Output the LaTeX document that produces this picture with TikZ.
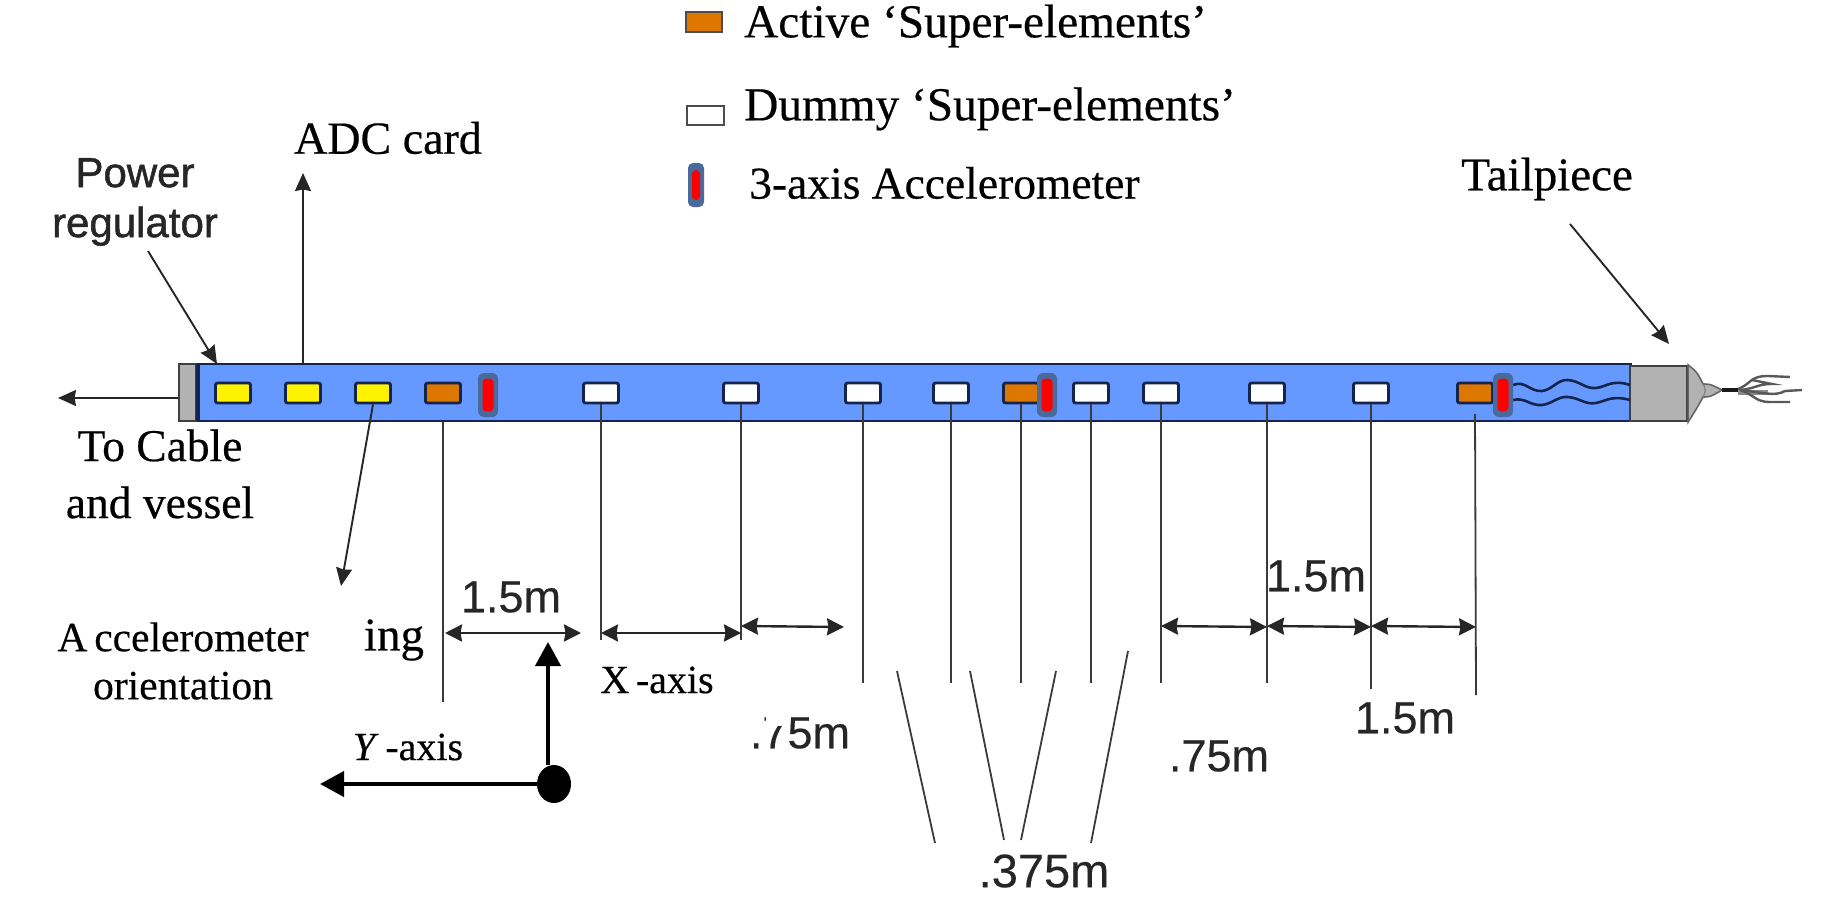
\documentclass[tikz,border=0pt]{standalone}
\usepackage{fontspec}
\setmainfont[FakeBold=0.4]{Liberation Serif}
\newfontfamily\sansf[FakeBold=0.4]{Liberation Sans}
\newfontfamily\sansfb[FakeBold=1.2]{Liberation Sans}
\usetikzlibrary{arrows.meta,shapes.geometric}
\definecolor{tubeblue}{HTML}{6699FF}
\definecolor{edgeblue}{HTML}{14244F}
\definecolor{grayblock}{HTML}{B2B2B2}
\definecolor{activeorange}{HTML}{DD7700}
\definecolor{accelrim}{HTML}{4A6A9E}
\definecolor{dimgray}{HTML}{3A3A3A}
\tikzset{
  elem/.style={draw=edgeblue,line width=2.8pt,rounded corners=2pt,minimum width=35pt,minimum height=20pt,inner sep=0pt},
  yellowel/.style={elem,fill=yellow},
  activeel/.style={elem,fill=activeorange},
  dummyel/.style={elem,fill=white},
  accelrimbox/.style={fill=accelrim,rounded corners=6pt,minimum width=20pt,minimum height=44pt,inner sep=0pt},
  accelcore/.style={fill=red,rounded corners=4pt,minimum width=11pt,minimum height=33pt,inner sep=0pt},
  ext/.style={draw=dimgray,line width=1.8pt},
  pointer/.style={draw=black!85,line width=1.9pt,-{Stealth[length=18pt,width=16pt,inset=1.5pt]}},
  dimarrow/.style={draw=black!85,line width=2.4pt,{Stealth[length=17pt,width=17pt,inset=1.5pt]}-{Stealth[length=17pt,width=17pt,inset=1.5pt]}},
  axisarrow/.style={draw=black,line width=4pt,-{Triangle[length=24pt,width=25pt]}},
  serif/.style={font=\fontsize{46}{56}\selectfont,inner sep=0pt,align=center},
  legendt/.style={font=\fontsize{47.3}{52}\selectfont,inner sep=0pt,anchor=west},
  sanslbl/.style={font=\sansf\fontsize{45}{50}\selectfont,inner sep=0pt,text=black!85},
  sanssmall/.style={font=\sansfb\fontsize{42}{50}\selectfont,inner sep=0pt,align=center,text=black!85},
  wire/.style={draw=black!65,line width=2.4pt},
  squig/.style={draw=edgeblue,line width=2.6pt},
}
\begin{document}
\begin{tikzpicture}[x=1pt,y=-1pt]
\useasboundingbox (0,0) rectangle (1830,912);
% body of the instrument
\node[draw=edgeblue,line width=2.4pt,fill=tubeblue,minimum width=1433pt,minimum height=57pt,inner sep=0pt] (tube) at (914.5,392.5) {};
\node[draw=black!75,line width=2pt,fill=grayblock,minimum width=17pt,minimum height=57pt,inner sep=0pt] (lcap) at (187.5,392.5) {};
\draw[edgeblue,line width=3.5pt] (198,364) -- (198,421);
\node[draw=black!75,line width=2.2pt,fill=grayblock,minimum width=57pt,minimum height=55pt,inner sep=0pt] (rcap) at (1658.5,393.5) {};
% tail cone and wires
\coordinate (wroot) at (1722,390);
\coordinate (w1) at (1790,377);
\coordinate (w2) at (1802,390);
\coordinate (w3) at (1790,402);
\fill[grayblock,draw=black!60,line width=1.6pt] (rcap.north east) .. controls (1697,372) .. (1703,384) .. controls (1710,384) .. (wroot) .. controls (1710,397) .. (1703,397) .. controls (1697,408) .. (rcap.south east) -- cycle;
\draw[black!50,line width=1.2pt] (1703,384) .. controls (1706,390) .. (1703,397);
\draw[wire] (1735,390) .. controls (1752,385) and (1748,376) .. (1768,376) -- (w1);
\draw[wire] (1735,390) .. controls (1755,390) and (1755,384) .. (1772,384) -- (1752,380);
\draw[wire,line width=5pt,draw=black!45] (1738,392) -- (1768,392);
\draw[wire] (1740,390) .. controls (1760,392) and (1775,397) .. (1785,391) -- (w2);
\draw[wire] (1740,390) .. controls (1755,395) and (1755,402) .. (1770,402) -- (w3);
\draw[black!90,line width=4.5pt] (wroot) -- (1738,390);
% elements
\node[yellowel] (y1) at (233,393) {};
\node[yellowel] (y2) at (303,393) {};
\node[yellowel] (y3) at (373,393) {};
\node[activeel] (a1) at (443,393) {};
\node[dummyel] (d1) at (601,393) {};
\node[dummyel] (d2) at (741,393) {};
\node[dummyel] (d3) at (863,393) {};
\node[dummyel] (d4) at (951,393) {};
\node[activeel] (a2) at (1021,393) {};
\node[dummyel] (d5) at (1091,393) {};
\node[dummyel] (d6) at (1161,393) {};
\node[dummyel] (d7) at (1267,393) {};
\node[dummyel] (d8) at (1371,393) {};
\node[activeel] (a3) at (1475,393) {};
% accelerometers
\node[accelrimbox] (acr1) at (488,395) {};
\node[accelcore] (acc1) at (488,395) {};
\node[accelrimbox] (acr2) at (1047,395) {};
\node[accelcore] (acc2) at (1047,395) {};
\node[accelrimbox] (acr3) at (1503,395) {};
\node[accelcore] (acc3) at (1503,395) {};
% internal wires
\draw[squig] (acr3.east |- 0,385) .. controls (1525,380) and (1530,392) .. (1542,391) .. controls (1552,390) and (1558,379) .. (1568,380) .. controls (1580,381) and (1585,389) .. (1596,388) .. controls (1606,387) and (1612,379) .. (1630,385);
\draw[squig] (acr3.east |- 0,400) .. controls (1525,397) and (1530,406) .. (1542,405) .. controls (1552,404) and (1558,396) .. (1568,397) .. controls (1580,398) and (1585,405) .. (1596,403) .. controls (1606,401) and (1612,395) .. (1630,400);
% extension lines
\coordinate (e1) at (443,702);
\coordinate (e2) at (601,640);
\coordinate (e3) at (741,640);
\coordinate (e4) at (863,683);
\coordinate (e5) at (951,683);
\coordinate (e6) at (1021,683);
\coordinate (e7) at (1091,683);
\coordinate (e8) at (1161,683);
\coordinate (e9) at (1267,683);
\coordinate (e10) at (1371,689);
\coordinate (e11) at (1476,695);
\draw[ext] (a1 |- tube.south) -- (e1);
\draw[ext] (d1.south) -- (e2);
\draw[ext] (d2.south) -- (e3);
\draw[ext] (d3.south) -- (e4);
\draw[ext] (d4.south) -- (e5);
\draw[ext] (a2.south) -- (e6);
\draw[ext] (d5.south) -- (e7);
\draw[ext] (d6.south) -- (e8);
\draw[ext] (d7.south) -- (e9);
\draw[ext] (d8.south) -- (e10);
\draw[ext] (a3 |- 0,414) -- (e11);
% slanted leaders
\coordinate (s1a) at (897,671); \coordinate (s1b) at (935,843);
\coordinate (s2a) at (970,671); \coordinate (s2b) at (1004,840);
\coordinate (s3a) at (1056,671); \coordinate (s3b) at (1021,840);
\coordinate (s4a) at (1128,651); \coordinate (s4b) at (1091,843);
\draw[ext] (s1a) -- (s1b);
\draw[ext] (s2a) -- (s2b);
\draw[ext] (s3a) -- (s3b);
\draw[ext] (s4a) -- (s4b);
% dimension arrows
\coordinate (da1) at (445,633); \coordinate (da2) at (581,633);
\coordinate (db1) at (601,633); \coordinate (db2) at (741,633);
\coordinate (dc1) at (741,626); \coordinate (dc2) at (844,627);
\coordinate (dd1) at (1161,626); \coordinate (dd2) at (1267,627);
\coordinate (de1) at (1267,626); \coordinate (de2) at (1371,627);
\coordinate (df1) at (1371,626); \coordinate (df2) at (1476,627);
\draw[dimarrow] (da1) -- (da2);
\draw[dimarrow] (db1) -- (db2);
\draw[dimarrow] (dc1) -- (dc2);
\draw[dimarrow] (dd1) -- (dd2);
\draw[dimarrow] (de1) -- (de2);
\draw[dimarrow] (df1) -- (df2);
% labels
\node[sanssmall] (power) at (135,202) {Power\\regulator};
\node[serif] (adc) at (388,138) {ADC card};
\node[serif,font=\fontsize{47}{56}\selectfont] (tail) at (1547,179) {Tailpiece};
\node[serif,font=\fontsize{45.5}{57}\selectfont] (cable) at (160,474) {To Cable\\and vessel};
\node[serif,font=\fontsize{41.5}{48}\selectfont] (orient) at (183,661) {A\,ccelerometer\\orientation};
\node[serif,font=\fontsize{47}{56}\selectfont] (ing) at (394,640) {ing};
\node[serif,font=\fontsize{40}{46}\selectfont] (xax) at (657,680) {X\,-axis};
\node[serif,font=\fontsize{40}{46}\selectfont] (yax) at (408,747) {\textit{Y}\,-axis};
\node[sanslbl] (l1) at (511,597) {1.5m};
\node[sanslbl] (l2) at (800,733) {.75m};
\fill[white] (766,708) rectangle (790,726);
\node[sanslbl] (l3) at (1219,756) {.75m};
\node[sanslbl] (l4) at (1316,576) {1.5m};
\draw[ext] (d7.south) -- (e9);
\node[sanslbl] (l5) at (1405,718) {1.5m};
\node[sanslbl,font=\sansf\fontsize{47}{50}\selectfont] (l6) at (1044,871) {.375m};
% pointers
\coordinate (pwrtip) at (217,364);
\coordinate (pwrfrom) at (148,251);
\draw[pointer] (pwrfrom) -- (pwrtip);
\coordinate (adctip) at (303,173);
\draw[pointer] (tube.north -| adctip) -- (adctip);
\coordinate (cabletip) at (58,398);
\draw[pointer] (lcap.west |- cabletip) -- (cabletip);
\coordinate (tailfrom) at (1570,224);
\coordinate (tailtip) at (1669,344);
\draw[pointer] (tailfrom) -- (tailtip);
\coordinate (orienttip) at (341,586);
\draw[pointer] (y3.south) -- (orienttip);
% axes
\node[ellipse,fill=black,minimum width=34pt,minimum height=38pt,inner sep=0pt] (origin) at (554,784) {};
\coordinate (xtip) at (548,642);
\coordinate (ytip) at (320,784);
\draw[axisarrow] (origin.north -| xtip) -- (xtip);
\draw[axisarrow] (origin.west) -- (ytip);
% legend
\node[draw=black!70,line width=2pt,fill=activeorange,minimum width=36pt,minimum height=20pt,inner sep=0pt] (la) at (704,22) {};
\node[draw=black!70,line width=2pt,fill=white,minimum width=37pt,minimum height=19pt,inner sep=0pt] (ld) at (705,116) {};
\node[fill=accelrim,rounded corners=5pt,minimum width=16pt,minimum height=44pt,inner sep=0pt] (lac) at (696,185) {};
\node[fill=red,rounded corners=4pt,minimum width=8pt,minimum height=30pt,inner sep=0pt] (lacc) at (696,185) {};
\node[legendt] (lt1) at (744,26) {Active ‘Super-elements’};
\node[legendt] (lt2) at (744,109) {Dummy ‘Super-elements’};
\node[legendt,font=\fontsize{45.5}{50}\selectfont] (lt3) at (749,183) {3-axis Accelerometer};
\end{tikzpicture}
\end{document}
